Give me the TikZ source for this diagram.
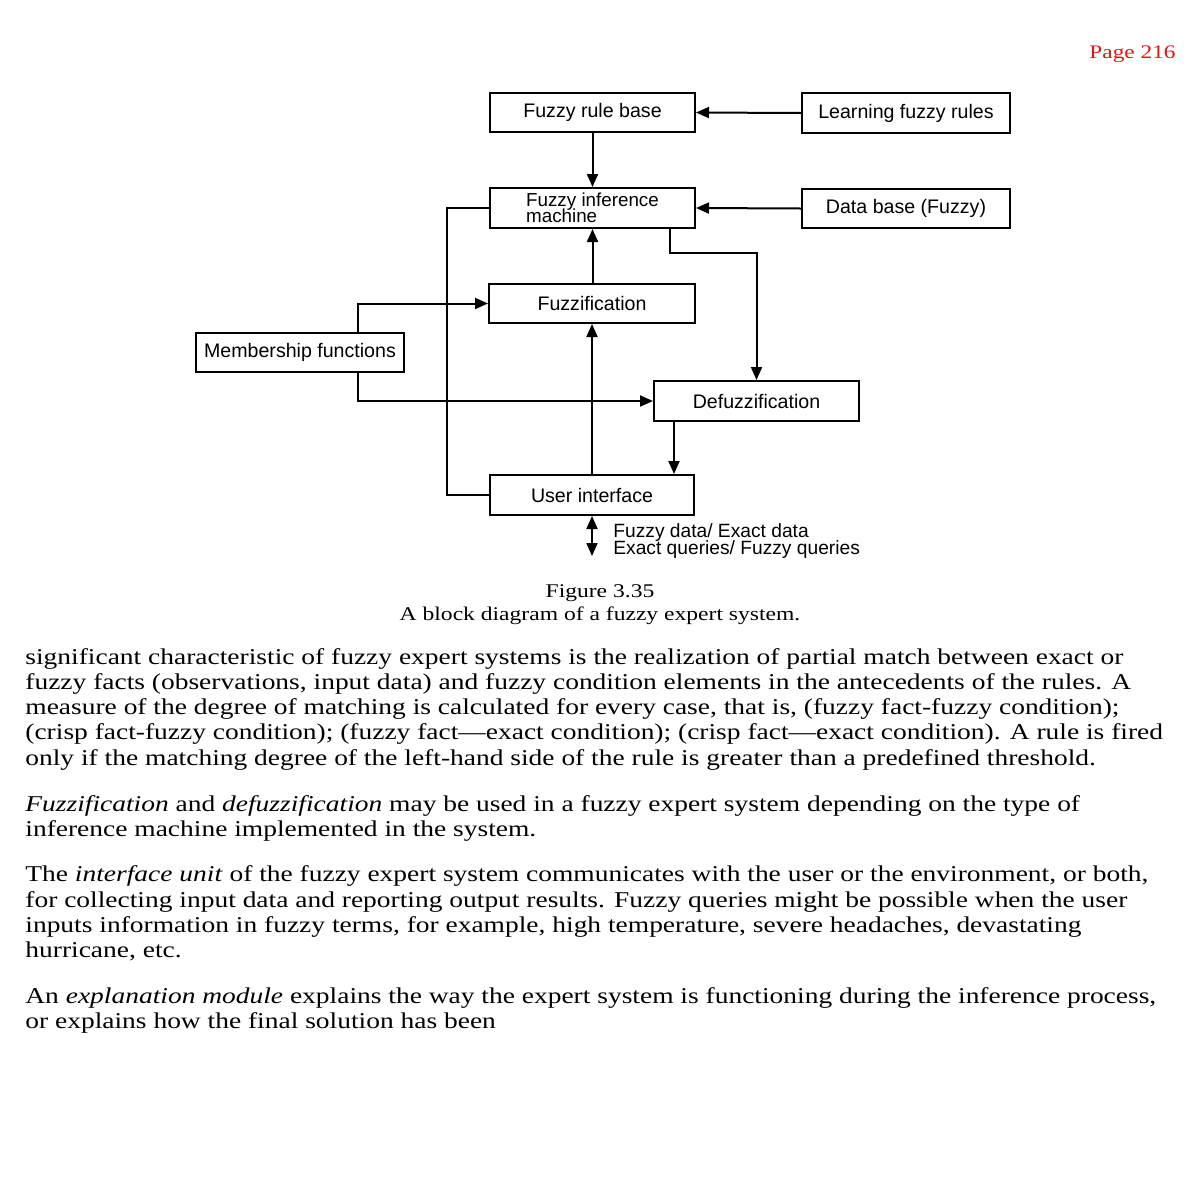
\documentclass[tikz,border=0pt]{standalone}
\usepackage{fontspec}
\setmainfont{Liberation Serif}[FakeStretch=1.215]
\newfontfamily\diagfont{Liberation Sans}
\usetikzlibrary{arrows.meta}
\definecolor{pagered}{RGB}{230,20,20}
\tikzset{
  blk/.style={draw, line width=1pt, rectangle, inner sep=0pt, font=\diagfont\fontsize{9.8}{8}\selectfont},
  conn/.style={line width=1pt},
  arr/.style={line width=1pt, -{Triangle[length=6.5pt,width=5.5pt]}},
  darr/.style={line width=1pt, {Triangle[length=6.5pt,width=5.5pt]}-{Triangle[length=6.5pt,width=5.5pt]}},
  lbl/.style={font=\diagfont\fontsize{9.6}{8}\selectfont, anchor=base west, inner sep=0pt},
  body/.style={font=\fontsize{11.3}{12}\selectfont, anchor=base west, inner sep=0pt},
  capt/.style={font=\fontsize{9.7}{12}\selectfont, anchor=base, inner sep=0pt}
}
\begin{document}
\begin{tikzpicture}[x=0.5pt, y=-0.5pt]
\useasboundingbox[fill=white] (0,0) rectangle (1200,1200);

\node[font=\fontsize{9.6}{12}\selectfont, text=pagered, anchor=base east, inner sep=0pt] (page) at (1176,58) {Page 216};

% blocks
\node[blk, minimum width=102.5pt, minimum height=19.5pt] (rb) at (592.5,112.5) {Fuzzy rule base};
\node[blk, minimum width=104pt, minimum height=20pt] (lfr) at (906,113) {Learning fuzzy rules};
\node[blk, minimum width=102.5pt, minimum height=20pt, align=left, font=\diagfont\fontsize{9.4}{8}\selectfont] (fim) at (592.5,208) {Fuzzy inference\\[-1.6pt]machine};
\node[blk, minimum width=104pt, minimum height=19.5pt] (db) at (906,208.5) {Data base (Fuzzy)};
\node[blk, minimum width=103pt, minimum height=19.5pt] (fz) at (592,303.5) {Fuzzification};
\node[blk, minimum width=104pt, minimum height=19.5pt] (mf) at (300,352.5) {Membership functions};
\node[blk, minimum width=102.5pt, minimum height=20pt] (dz) at (756.5,401) {Defuzzification};
\node[blk, minimum width=102pt, minimum height=20pt] (ui) at (592,495) {User interface};

% helper coordinates
\coordinate (c1) at (670,253);
\coordinate (lx) at (447,0);
\coordinate (m1) at (358,302);
\coordinate (m2) at (358,399);
\coordinate (d1) at (674,0);
\coordinate (io) at (592,556);

% connectors
\draw[arr] (lfr.west) -- (rb.east);
\draw[arr] (rb.south) -- (fim.north);
\draw[arr] (db.west) -- (fim.east);
\draw[arr] (fz.north -| fim.south) -- (fim.south);
\draw[arr] (ui.north) -- (fz.south);
\draw[conn] (fim.west) -- (lx |- fim.west) -- (lx |- ui.west) -- (ui.west);
\draw[arr] (c1 |- fim.south) -- (c1) -| (dz.north);
\draw[arr] (m1 |- mf.north) |- (fz.west);
\draw[arr] (m2 |- mf.south) |- (dz.west);
\draw[arr] (d1 |- dz.south) -- (d1 |- ui.north);
\draw[darr] (ui.south) -- (io);

\node[lbl] (l1) at (613,537) {Fuzzy data/ Exact data};
\node[lbl] (l2) at (613,554) {Exact queries/ Fuzzy queries};

% caption
\node[capt] (cap1) at (600,597) {Figure 3.35};
\node[capt] (cap2) at (600,620) {A block diagram of a fuzzy expert system.};

% body text
\node[body] (t1) at (25,664) {significant characteristic of fuzzy expert systems is the realization of partial match between exact or};
\node[body] (t2) at (25,689) {fuzzy facts (observations, input data) and fuzzy condition elements in the antecedents of the rules. A};
\node[body] (t3) at (25,714) {measure of the degree of matching is calculated for every case, that is, (fuzzy fact-fuzzy condition);};
\node[body] (t4) at (25,739) {(crisp fact-fuzzy condition); (fuzzy fact—exact condition); (crisp fact—exact condition). A rule is fired};
\node[body] (t5) at (25,765) {only if the matching degree of the left-hand side of the rule is greater than a predefined threshold.};

\node[body] (t6) at (25,811) {\emph{Fuzzification} and \emph{defuzzification} may be used in a fuzzy expert system depending on the type of};
\node[body] (t7) at (25,836) {inference machine implemented in the system.};

\node[body] (t8) at (25,881) {The \emph{interface unit} of the fuzzy expert system communicates with the user or the environment, or both,};
\node[body] (t9) at (25,907) {for collecting input data and reporting output results. Fuzzy queries might be possible when the user};
\node[body] (t10) at (25,932) {inputs information in fuzzy terms, for example, high temperature, severe headaches, devastating};
\node[body] (t11) at (25,957) {hurricane, etc.};

\node[body] (t12) at (25,1003) {An \emph{explanation module} explains the way the expert system is functioning during the inference process,};
\node[body] (t13) at (25,1028) {or explains how the final solution has been};
\end{tikzpicture}
\end{document}
